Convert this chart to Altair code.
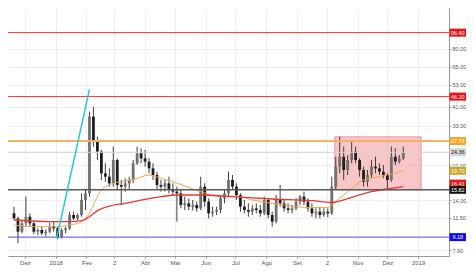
import altair as alt
import pandas as pd

# ---------------- data ----------------
candle_start = "2017-11-20"   # one candle every 4 days
open_ = [12.07, 11.39, 9.77, 10.76, 11.61, 10.76, 9.77, 9.96, 9.59, 9.77,
         10.35, 10.16, 9.23, 9.96, 10.16, 11.84, 11.39, 11.84, 14.07, 15.19,
         36.69, 28.05, 24.53, 19.12, 18.40, 17.04, 22.29, 16.72, 16.40, 17.04,
         17.71, 21.45, 24.07, 22.72, 21.87, 20.25, 18.76, 16.72, 16.40, 17.04,
         15.79, 15.49, 15.19, 13.28, 13.54, 13.03, 13.28, 12.78, 16.40, 13.80,
         12.07, 12.30, 12.54, 14.34, 15.19, 17.71, 16.40, 14.90, 13.03, 12.54,
         12.30, 12.78, 12.54, 12.07, 14.07, 11.84, 10.96, 14.07, 13.54, 12.78,
         12.54, 12.78, 13.80, 14.62, 13.80, 12.78, 12.07, 12.30, 11.84, 12.30,
         12.07, 16.40, 20.65, 23.16, 19.87, 22.29, 24.53, 22.29, 19.87, 17.37,
         18.76, 20.65, 20.25, 19.49, 18.76, 17.71, 23.16, 21.87, 22.72]
high = [13.03, 11.61, 11.18, 14.62, 12.07, 10.96, 10.16, 10.35, 10.04, 10.84,
        10.96, 10.35, 10.16, 10.35, 12.30, 12.30, 12.07, 15.19, 15.79, 38.86,
        41.16, 29.15, 25.01, 21.45, 20.25, 25.98, 22.72, 17.71, 18.05, 18.40,
        22.29, 25.98, 25.49, 25.01, 22.72, 21.45, 19.49, 17.71, 17.71, 18.40,
        17.04, 16.40, 15.79, 14.62, 14.34, 14.07, 13.80, 18.40, 17.04, 14.34,
        13.03, 13.03, 14.90, 15.79, 19.49, 18.76, 17.04, 15.19, 14.07, 13.54,
        13.28, 13.54, 13.28, 14.62, 14.34, 12.30, 14.90, 16.72, 14.07, 13.54,
        13.28, 14.34, 14.90, 15.49, 14.34, 13.54, 12.78, 13.03, 12.78, 12.78,
        18.40, 23.16, 29.15, 25.98, 23.61, 27.52, 25.98, 22.72, 20.65, 19.87,
        22.29, 23.16, 21.45, 21.05, 19.12, 25.98, 25.49, 23.61, 25.98]
low = [11.18, 8.55, 9.59, 10.35, 10.35, 9.51, 9.40, 9.40, 9.23, 9.59,
       9.77, 8.95, 9.05, 9.59, 9.96, 11.18, 11.18, 11.61, 12.54, 14.62,
       25.98, 22.29, 17.71, 17.37, 16.40, 16.40, 15.79, 13.28, 15.49, 15.79,
       17.04, 21.05, 21.45, 20.65, 19.12, 17.71, 15.79, 15.49, 15.49, 15.19,
       14.90, 10.96, 12.78, 12.54, 12.54, 12.45, 12.30, 12.54, 13.03, 11.39,
       11.61, 11.84, 12.07, 13.54, 14.62, 15.79, 14.07, 12.30, 12.07, 11.61,
       11.84, 12.07, 11.61, 11.84, 11.39, 10.35, 10.76, 13.03, 12.30, 12.07,
       12.07, 12.54, 13.28, 13.28, 12.30, 11.61, 11.39, 11.39, 11.61, 11.52,
       11.84, 15.79, 19.12, 17.71, 18.76, 21.45, 21.45, 18.40, 16.40, 16.40,
       18.05, 19.12, 18.76, 18.05, 16.09, 17.37, 21.05, 21.45, 22.29]
close = [11.39, 9.77, 10.76, 11.61, 10.76, 9.77, 9.96, 9.59, 9.77, 10.35,
         10.16, 9.23, 9.96, 10.16, 11.84, 11.39, 11.84, 14.07, 15.19, 36.69,
         28.05, 24.53, 19.12, 18.40, 17.04, 22.29, 16.72, 16.40, 17.04, 17.71,
         21.45, 24.07, 22.72, 21.87, 20.25, 18.76, 16.72, 16.40, 17.04, 15.79,
         15.49, 15.19, 13.28, 13.54, 13.03, 13.28, 12.78, 16.40, 13.80, 12.07,
         12.30, 12.54, 14.34, 15.19, 17.71, 16.40, 14.90, 13.03, 12.54, 12.30,
         12.78, 12.54, 12.07, 14.07, 11.84, 10.96, 14.07, 13.54, 12.78, 12.54,
         12.78, 13.80, 14.62, 13.80, 12.78, 12.07, 12.30, 11.84, 12.30, 12.07,
         16.40, 20.65, 23.16, 19.87, 22.29, 24.53, 22.29, 19.87, 17.37, 18.76,
         20.65, 20.25, 19.49, 18.76, 17.71, 23.16, 21.87, 22.72, 24.36]

ma_fast_dates = ["2017-11-20", "2017-12-10", "2017-12-30", "2018-01-15", "2018-01-27",
                 "2018-02-04", "2018-02-08", "2018-02-16", "2018-02-28", "2018-03-12",
                 "2018-03-24", "2018-04-05", "2018-04-17", "2018-04-29", "2018-05-11",
                 "2018-05-27", "2018-06-16", "2018-07-02", "2018-07-18", "2018-08-07",
                 "2018-08-27", "2018-09-16", "2018-10-02", "2018-10-10", "2018-10-22",
                 "2018-11-07", "2018-11-23", "2018-12-05", "2018-12-17"]
ma_fast = [10.55, 10.35, 10.35, 10.55, 10.96, 12.07, 13.28, 15.79, 17.04, 17.50,
           18.05, 18.76, 18.05, 17.37, 16.53, 15.49, 14.62, 14.73, 14.07, 13.54,
           13.13, 12.88, 12.93, 13.80, 15.49, 17.71, 18.40, 18.97, 19.70]

ma_slow_dates = ["2017-11-20", "2017-12-10", "2017-12-30", "2018-01-15", "2018-01-27",
                 "2018-02-04", "2018-02-12", "2018-02-24", "2018-03-12", "2018-04-01",
                 "2018-04-17", "2018-05-03", "2018-05-27", "2018-06-28", "2018-08-07",
                 "2018-09-16", "2018-10-06", "2018-10-26", "2018-11-15", "2018-12-05",
                 "2018-12-17"]
ma_slow = [11.18, 11.05, 10.96, 10.96, 11.09, 11.61, 12.45, 13.13, 13.54, 14.18,
           14.62, 14.90, 14.90, 14.62, 14.23, 13.96, 13.69, 14.51, 15.49, 16.09,
           16.41]

level_values = [96.40, 46.20, 27.73, 24.36, 15.82, 9.18]
level_colors = ["#e8332e", "#e8332e", "#f8b068", "#d2d2d2", "#5a5a5a", "#4b4be0"]
level_widths = [1.0, 1.0, 2.0, 1.0, 1.6, 1.0]

badge_values = [96.40, 46.20, 27.73, 24.36, 19.70, 15.82, 9.18]
badge_labels = ["96.40", "46.20", "27.73", "24.36", "19.70", "15.82", "9.18"]
badge_bg = ["#f01010", "#f01010", "#f5a623", "#d6d6d6", "#c9a42a", "#111111", "#0a0aff"]
badge_fg = ["#ffffff", "#ffffff", "#ffffff", "#222222", "#ffffff", "#ffffff", "#ffffff"]
badge2_values = [16.41]
badge2_labels = ["16.41"]

box_x = ["2018-10-09", "2019-01-04"]
box_y = [29.1, 15.82]

trend_dates = ["2018-01-02", "2018-02-04"]
trend_values = [9.05, 50.2]

y_ticks = [7.9, 11.5, 14.0, 21.0, 33.0, 41.0, 53.0, 65.0, 80.0]
month_names = ["Jan", "Fev", "2", "Abr", "Mai", "Jun", "Jul", "Ago", "Set", "2", "Nov", "Dez"]

# ---------------- tables ----------------
dates = pd.date_range(candle_start, periods=len(close), freq="4D")
candles = pd.DataFrame({"date": dates, "open": open_, "high": high, "low": low, "close": close})
candles["dir"] = ["up" if c >= o else "down" for o, c in zip(open_, close)]
fast = pd.DataFrame({"date": pd.to_datetime(ma_fast_dates), "v": ma_fast})
slow = pd.DataFrame({"date": pd.to_datetime(ma_slow_dates), "v": ma_slow})
levels = pd.DataFrame({"v": level_values, "c": level_colors, "w": level_widths})
badges = pd.DataFrame({"v": badge_values, "t": badge_labels, "bg": badge_bg, "fg": badge_fg})
badges2 = pd.DataFrame({"v": badge2_values, "t": badge2_labels})
box = pd.DataFrame({"x": [pd.Timestamp(box_x[0])], "x2": [pd.Timestamp(box_x[1])],
                    "y": [box_y[0]], "y2": [box_y[1]]})
trend = pd.DataFrame({"date": pd.to_datetime(trend_dates), "v": trend_values})

W, H = 441, 248
FONT = "Liberation Sans"

x_ticks = [alt.DateTime(year=y, month=m, date=1) for (y, m) in
           [(2017, 12)] + [(2018, k) for k in range(1, 13)] + [(2019, 1)]]
label_expr = ("month(datum.value)==0 ? timeFormat(datum.value,'%Y') : "
              + str(month_names) + "[month(datum.value)]")

x_scale = alt.Scale(domain=[alt.DateTime(year=2017, month=11, date=19),
                            alt.DateTime(year=2019, month=1, date=27)])
x_axis = alt.Axis(values=x_ticks, labelExpr=label_expr, title=None, labelFlush=False,
                  labelFontSize=6, labelFont=FONT, labelColor="#555555", tickSize=2,
                  tickColor="#999999", domainColor="#999999", gridColor="#eeeeee",
                  labelPadding=1)
y_scale = alt.Scale(type="log", domain=[7.389, 128.0], nice=False, zero=False)
y_axis = alt.Axis(orient="right", values=y_ticks, format=".2f", title=None,
                  labelFontSize=5.5, labelFont=FONT, labelColor="#555555", tickSize=2,
                  tickColor="#999999", domainColor="#999999", gridColor="#eeeeee",
                  labelPadding=1)


def X(field):
    return alt.X(field, scale=x_scale, axis=x_axis, title=None)


def Y(field):
    return alt.Y(field, scale=y_scale, axis=y_axis, title=None)


rect = alt.Chart(box).mark_rect(fill="#f08080", fillOpacity=0.45, stroke="#e88a8a",
                                strokeWidth=0.8).encode(
    x=X("x:T"), x2="x2:T", y=Y("y:Q"), y2="y2:Q")

wicks = alt.Chart(candles).mark_rule(strokeWidth=0.9, color="#2a2a2a").encode(
    x=X("date:T"), y=Y("low:Q"), y2="high:Q")
bodies = alt.Chart(candles).mark_bar(width=2.8).encode(
    x=X("date:T"), y=Y("open:Q"), y2="close:Q",
    color=alt.Color("dir:N", scale=alt.Scale(domain=["up", "down"], range=["#707070", "#1e1e1e"]),
                    legend=None))

fast_line = alt.Chart(fast).mark_line(color="#eea653", strokeWidth=1.0,
                                      interpolate="monotone").encode(x=X("date:T"), y=Y("v:Q"))
slow_line = alt.Chart(slow).mark_line(color="#e53935", strokeWidth=1.3,
                                      interpolate="monotone").encode(x=X("date:T"), y=Y("v:Q"))

level_rules = alt.Chart(levels).mark_rule().encode(
    y=Y("v:Q"), color=alt.Color("c:N", scale=None), strokeWidth=alt.StrokeWidth("w:Q", scale=None))

trend_line = alt.Chart(trend).mark_line(color="#2bc6d8", strokeWidth=1.5).encode(
    x=X("date:T"), y=Y("v:Q"))

bx = W + 8.75
badge_box = alt.Chart(badges).mark_tick(orient="horizontal", thickness=8, size=16.5,
                                        clip=False, opacity=1).encode(
    y=Y("v:Q"), x=alt.value(bx), color=alt.Color("bg:N", scale=None))
badge_text = alt.Chart(badges).mark_text(fontSize=5.5, font=FONT, align="center",
                                         baseline="middle", clip=False).encode(
    y=Y("v:Q"), x=alt.value(bx), text="t:N", color=alt.Color("fg:N", scale=None))
badge2_box = alt.Chart(badges2).mark_tick(orient="horizontal", thickness=8, size=16.5,
                                          clip=False, color="#f01010", opacity=1,
                                          yOffset=-3).encode(y=Y("v:Q"), x=alt.value(bx))
badge2_text = alt.Chart(badges2).mark_text(fontSize=5.5, font=FONT, align="center",
                                           baseline="middle", clip=False, color="#ffffff",
                                           yOffset=-3).encode(
    y=Y("v:Q"), x=alt.value(bx), text="t:N")

chart = alt.layer(
    rect, wicks, bodies, fast_line, slow_line, level_rules, trend_line,
    badge2_box, badge2_text, badge_box, badge_text
).properties(
    width=W, height=H,
    autosize=alt.AutoSizeParams(type="none"),
    padding={"left": 0, "top": 0, "right": 17, "bottom": 10},
    background="#ffffff",
).configure_view(stroke=None)

chart.save("out.html", embed_options={"renderer": "svg", "actions": False})
